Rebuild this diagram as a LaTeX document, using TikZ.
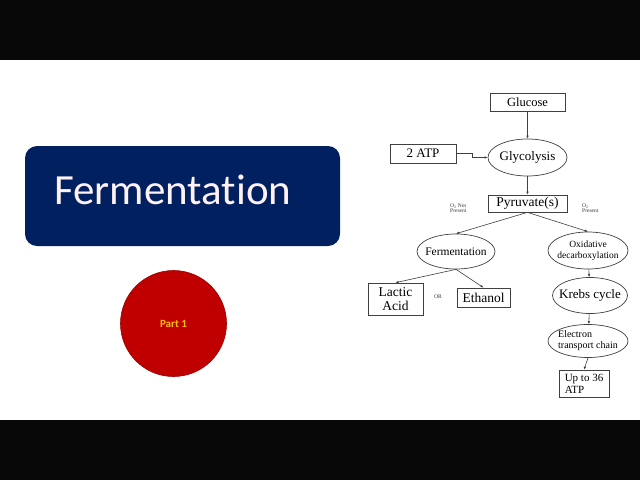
\documentclass[tikz,border=0pt]{standalone}
\usepackage{fontspec}
\setmainfont{Liberation Serif}
\newfontfamily\calib[Ligatures=NoCommon]{Carlito}
\usetikzlibrary{shapes.geometric,arrows.meta}
\definecolor{navy}{HTML}{002060}
\definecolor{darkred}{HTML}{C00000}
\definecolor{gold}{HTML}{FFC000}
\begin{document}
\begin{tikzpicture}[x=1pt,y=-1pt,
  bx/.style={draw=black!75,line width=0.7pt,inner sep=0pt,align=center,font=\fontsize{13}{13}\selectfont},
  el/.style={draw=black!75,line width=0.7pt,ellipse,inner sep=0pt},
  lab/.style={inner sep=0pt,align=center},
  ar/.style={-{Latex[length=3pt,width=2.5pt]},line width=0.6pt,black!75},
  tiny/.style={font=\fontsize{5.5}{5.5}\selectfont,align=left,inner sep=0pt,text=black!80}]
\useasboundingbox (0,0) rectangle (640,480);
\fill[white] (0,0) rectangle (640,480);
\fill[black!97] (0,0) rectangle (640,60);
\fill[black!97] (0,420) rectangle (640,480);
% title
\node[fill=navy,rounded corners=12pt,minimum width=315pt,minimum height=100pt,inner sep=0pt] (title) at (182.5,196) {};
\node[anchor=west,text=white!95!red,font=\calib\fontsize{43}{43}\selectfont,inner sep=0pt] (ttext) at (54,190) {Fermentation};
\node[circle,fill=darkred,draw=darkred!80!black,line width=0.6pt,minimum size=106pt,inner sep=0pt,text=gold,font=\calib\bfseries\fontsize{11}{11}\selectfont] (part) at (173.5,323.5) {Part 1};
% flowchart
\node[bx,minimum width=75pt,minimum height=18pt,font=\fontsize{12.5}{12.5}\selectfont] (glu) at (527.5,102) {Glucose};
\node[bx,minimum width=66pt,minimum height=19pt] (atp) at (423,153.5) {2 ATP};
\node[el,minimum width=79pt,minimum height=37pt,label={[lab,font=\fontsize{13}{13}\selectfont]center:Glycolysis}] (gly) at (527.5,157.5) {};
\node[bx,minimum width=79pt,minimum height=17pt,font=\fontsize{13.5}{13.5}\selectfont] (pyr) at (527.5,203.5) {Pyruvate(s)};
\node[tiny,anchor=west] (o2n) at (450,208) {O\textsubscript{2} Not\\Present};
\node[tiny,anchor=west] (o2p) at (582,208) {O\textsubscript{2}\\Present};
\node[el,minimum width=78pt,minimum height=35pt,label={[lab,font=\fontsize{11.5}{12}\selectfont]center:Fermentation}] (fer) at (456,251.5) {};
\node[el,minimum width=80pt,minimum height=37pt,label={[lab,font=\fontsize{9.5}{10.5}\selectfont]center:Oxidative\\decarboxylation}] (oxi) at (588,250.5) {};
\node[bx,minimum width=55pt,minimum height=32pt,font=\fontsize{13.5}{14}\selectfont] (lac) at (395.5,299) {Lactic\\Acid};
\node[tiny,font=\fontsize{5.5}{5.5}\selectfont] (or) at (438,297) {OR};
\node[bx,minimum width=53pt,minimum height=19pt,font=\fontsize{13.5}{13.5}\selectfont] (eth) at (483.5,297.5) {Ethanol};
\node[el,minimum width=75pt,minimum height=36pt,label={[lab,font=\fontsize{13}{13}\selectfont]center:Krebs cycle}] (kre) at (590,295.5) {};
\node[el,minimum width=80pt,minimum height=33pt,label={[lab,align=left,font=\fontsize{10}{11}\selectfont]center:Electron\\transport chain}] (etc) at (588,341) {};
\node[bx,minimum width=50pt,minimum height=27pt,align=left,font=\fontsize{11}{12}\selectfont] (up) at (584,383.5) {Up to 36\\ATP};
% connectors
\draw[ar] (glu) -- (gly);
\coordinate (k1) at (472,153.5);
\coordinate (k2) at (472,157.5);
\draw[ar] (atp.east) -- (k1) -- (k2) -- (gly.west);
\draw[ar] (gly) -- (pyr);
\draw[ar] (pyr.south) -- (fer.north);
\draw[ar] (pyr.south) -- (oxi.north);
\draw[ar] (fer.south) -- (lac.north);
\draw[ar] (fer.south) -- (eth.north);
\draw[ar] (oxi) -- (kre);
\draw[ar] (kre) -- (etc);
\draw[ar] (etc.south) -- (up.north);
\end{tikzpicture}
\end{document}
